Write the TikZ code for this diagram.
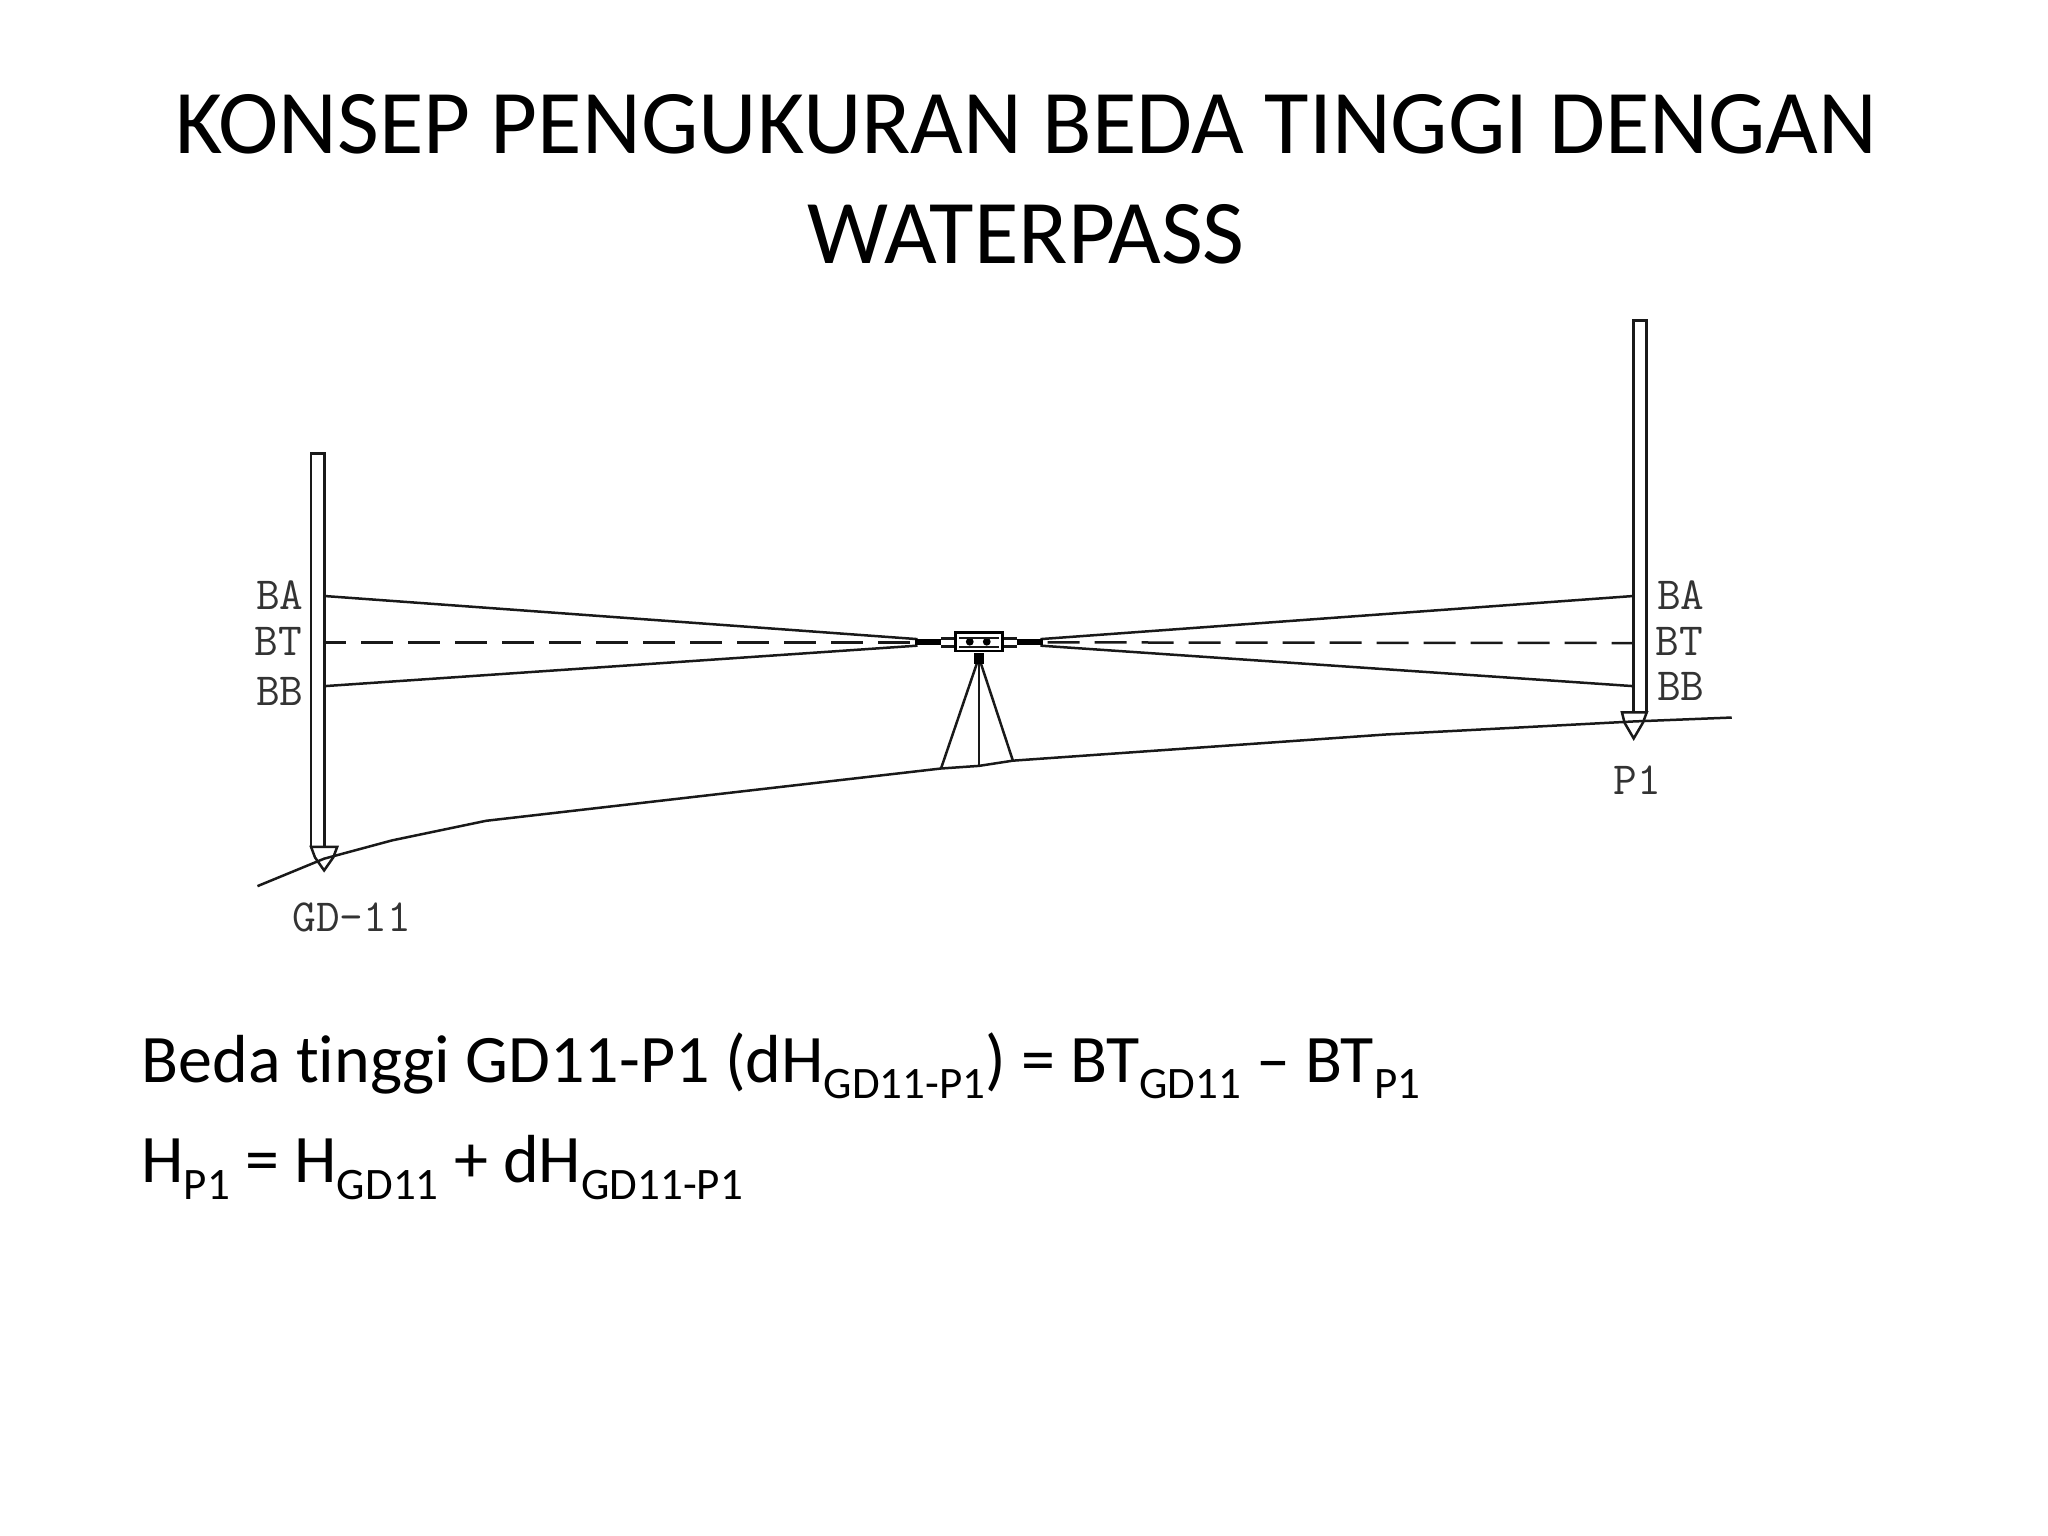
\documentclass[tikz,border=0pt]{standalone}
\usepackage{fontspec}
\setmainfont[Ligatures=NoCommon]{Carlito}
\usepackage{tikz}
\newcommand{\lowtxt}[1]{\raisebox{-0.5ex}{\fontsize{22.5}{22.5}\selectfont #1}}
\tikzset{
	line/.style={line width=1.25pt,color=black!90},
	staff/.style={line width=1.4pt,color=black!90},
	rod/.style={font=\ttfamily\fontsize{23}{23}\selectfont,inner sep=0pt,color=black!80},
	formula/.style={font=\fontsize{34}{34}\selectfont,anchor=base west,inner sep=0pt,color=black}
}
\begin{document}
\begin{tikzpicture}[x=0.6535pt,y=-0.6535pt]
	\useasboundingbox (0,0) rectangle (1567,1175);
	\coordinate (c1) at (248,456);%BA left
	\coordinate (c2) at (248,491.5);%BT left
	\coordinate (c3) at (248,525);%BB left
	\coordinate (c4) at (1250,456);%BA right
	\coordinate (c5) at (1250,492);%BT right
	\coordinate (c6) at (1250,525);%BB right
	\coordinate (c7) at (702,489);%left bar, top
	\coordinate (c8) at (702,494);%left bar, bottom
	\coordinate (c10) at (796,489);%right bar, top
	\coordinate (c11) at (796,494);%right bar, bottom
	\coordinate (c9) at (749,503);%tripod head
	\coordinate (f1) at (720,588);
	\coordinate (f2) at (749,586);
	\coordinate (f3) at (775,582);
	
	\node[font=\fontsize{45.5}{55}\selectfont,align=center,inner sep=0pt] (title) at (785,137) {KONSEP PENGUKURAN BEDA TINGGI DENGAN\\WATERPASS};
	
	\draw[staff] (238,648)--(238,347)--(248,347)--(248,648);
	\draw[staff] (1250,545)--(1250,245)--(1260,245)--(1260,545);
	
	\draw[line] (238,648)--(258,648)--(255,656)--(248,666)--(241,656)--cycle;
	\draw[line] (1241,545)--(1260,545)--(1257,553)--(1250,565)--(1243,553)--cycle;
	
	\draw[line] (197,678)--(248,657)--(300,643)--(372,628)--(f1)--(f2)--(f3)--(1060,562)--(1250,552)--(1325,549);
	
	\draw[line] (c1)--(c7);
	\draw[line] (c3)--(c8);
	\draw[line] (c4)--(c10);
	\draw[line] (c6)--(c11);
	\draw[line,dash pattern=on 16pt off 7.5pt,dash phase=5pt] (c2)--(700,491.5);
	\draw[line,dash pattern=on 16pt off 7.5pt,dash phase=5pt] (c5)--(798,491.5);
	
	\draw[line width=3pt] (700,491.5)--(720,491.5);
	\draw[line width=3pt] (778,491.5)--(798,491.5);
	\draw[line] (720,488.5)--(731,488.5);
	\draw[line] (720,494.5)--(731,494.5);
	\draw[line] (767,488.5)--(778,488.5);
	\draw[line] (767,494.5)--(778,494.5);
	
	\draw[line width=1.3pt,fill=white] (731,484) rectangle (767,498);
	\fill (742,491) circle (3);
	\fill (755,491) circle (3);
	\draw[line] (734,488)--(764,488);
	\draw[line] (734,495)--(764,495);
	
	\draw[line] (c9)--(f1);
	\draw[line] (c9)--(f2);
	\draw[line] (c9)--(f3);
	\fill (745,500) rectangle (753,508);
	
	\node[rod] (baleft) at (214,455) {BA};
	\node[rod] (btleft) at (213,491) {BT};
	\node[rod] (bbleft) at (214,529) {BB};
	\node[rod] (baright) at (1286,455) {BA};
	\node[rod] (btright) at (1285,491) {BT};
	\node[rod] (bbright) at (1286,525) {BB};
	\node[rod] (gd) at (269,702) {GD-11};
	\node[rod] (pone) at (1253,597) {P1};
	
	\node[formula] (line1) at (108,828) {Beda tinggi GD11-P1 (dH\lowtxt{GD11-P1}) = BT\lowtxt{GD11} – BT\lowtxt{P1}};
	\node[formula] (line2) at (108,905) {H\lowtxt{P1} = H\lowtxt{GD11} + dH\lowtxt{GD11-P1}};
\end{tikzpicture}
\end{document}
